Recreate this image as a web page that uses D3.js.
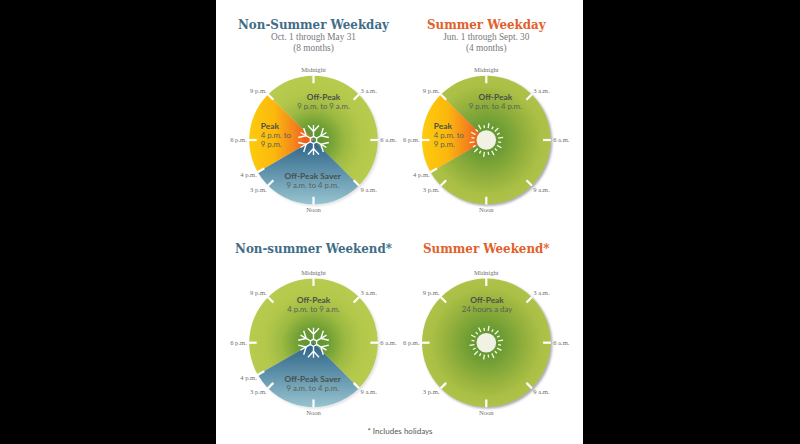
<!DOCTYPE html>
<html>
<head>
<meta charset="utf-8">
<script src="https://cdn.jsdelivr.net/npm/d3@7.9.0/dist/d3.min.js"></script>
<style>
  html, body { margin: 0; background: #000; }
  svg { display: block; }
  .title { font-family: "DejaVu Serif Condensed", "DejaVu Serif", serif; font-stretch: condensed; font-weight: bold; font-size: 13.2px; text-anchor: middle; }
  .sub { font-family: "Liberation Serif", serif; font-size: 9.3px; fill: #77787a; text-anchor: middle; }
  .hour { font-family: "Liberation Serif", serif; font-size: 6.6px; fill: #6f6f6f; text-anchor: middle; }
  .period { font-family: Lato, sans-serif; font-weight: bold; font-size: 8.4px; fill: #4a4f4a; }
  .range { font-family: Lato, sans-serif; font-size: 7.8px; fill: #5c5f58; }
  .note { font-family: Lato, sans-serif; font-size: 8px; fill: #555; text-anchor: middle; }
</style>
</head>
<body>
<svg id="chart" width="800" height="444"></svg>
<script>
const titles = ['Non-Summer Weekday', 'Summer Weekday', 'Non-summer Weekend*', 'Summer Weekend*'];
const subtitles = [
  ['Oct. 1 through May 31', '(8 months)'],
  ['Jun. 1 through Sept. 30', '(4 months)'],
  [],
  []
];
const seasons = ['winter', 'summer', 'winter', 'summer'];

// hours run from midnight; "to" goes past 24 when a period wraps round
const nonSummerWeekday = [
  { kind: 'offpeak', period: 'Off-Peak', range: ['9 p.m. to 9 a.m.'], from: 21, to: 33 },
  { kind: 'peak', period: 'Peak', range: ['4 p.m. to', '9 p.m.'], from: 16, to: 21 },
  { kind: 'saver', period: 'Off-Peak Saver', range: ['9 a.m. to 4 p.m.'], from: 9, to: 16 }
];
const summerWeekday = [
  { kind: 'offpeak', period: 'Off-Peak', range: ['9 p.m. to 4 p.m.'], from: 21, to: 40 },
  { kind: 'peak', period: 'Peak', range: ['4 p.m. to', '9 p.m.'], from: 16, to: 21 }
];
const nonSummerWeekend = [
  { kind: 'offpeak', period: 'Off-Peak', range: ['4 p.m. to 9 a.m.'], from: 16, to: 33 },
  { kind: 'saver', period: 'Off-Peak Saver', range: ['9 a.m. to 4 p.m.'], from: 9, to: 16 }
];
const summerWeekend = [
  { kind: 'offpeak', period: 'Off-Peak', range: ['24 hours a day'], from: 0, to: 24 }
];
const schedules = [nonSummerWeekday, summerWeekday, nonSummerWeekend, summerWeekend];

const hourTicks = [0, 3, 6, 9, 12, 15, 18, 21];
const hourNames = ['Midnight', '3 a.m.', '6 a.m.', '9 a.m.', 'Noon', '3 p.m.', '6 p.m.', '9 p.m.'];
const extraTick = 16;
const extraName = '4 p.m.';
const chartsWithExtraTick = [0, 1, 2];

// layout
const radius = 64.3;
const centers = [[313.5, 140], [486.3, 140], [313.5, 342.7], [486.3, 342.7]];
const titleY = [29, 29, 253, 253];
const labelSpots = {
  offpeak: [[10, -40], [9, -40], [0, -39.7], [0.7, -39.7]],
  peak: [[-52.8, -11], [-52.6, -11]],
  saver: [[-0.8, 39], null, [-0.8, 39.3]]
};

const svg = d3.select('#chart');
svg.append('rect').attr('x', 216).attr('y', 0).attr('width', 367).attr('height', 444).attr('fill', '#fff');

const angle = d3.scaleLinear().domain([0, 24]).range([0, 2 * Math.PI]);
const arc = d3.arc().innerRadius(0).outerRadius(radius);

const defs = svg.append('defs');

function radial(id, stops) {
  const g = defs.append('radialGradient').attr('id', id)
    .attr('gradientUnits', 'userSpaceOnUse').attr('cx', 0).attr('cy', 0).attr('r', radius);
  stops.forEach(([o, c]) => g.append('stop').attr('offset', o).attr('stop-color', c));
}
function linear(id, x1, y1, x2, y2, stops) {
  const g = defs.append('linearGradient').attr('id', id).attr('gradientUnits', 'userSpaceOnUse')
    .attr('x1', x1).attr('y1', y1).attr('x2', x2).attr('y2', y2);
  stops.forEach(([o, c]) => g.append('stop').attr('offset', o).attr('stop-color', c));
}
radial('offpeak-winter', [[0, '#5a922e'], [0.2, '#679a32'], [0.5, '#9dba42'], [0.75, '#b3c84b'], [1, '#b8cb50']]);
radial('offpeak-summer', [[0, '#5a922e'], [0.25, '#6b9c33'], [0.6, '#93b03d'], [0.85, '#aabf45'], [1, '#afc248']]);
linear('peak', -radius, 0, -8, 0, [[0, '#fdcb0c'], [0.45, '#fbb80f'], [0.78, '#f5881a'], [1, '#ee5f1e']]);
linear('saver', 0, 5, 0, radius, [[0, '#34688c'], [0.45, '#5f92aa'], [1, '#97c3d0']]);

function addShadow(id, opacity) {
  const f = defs.append('filter').attr('id', id)
    .attr('x', '-20%').attr('y', '-20%').attr('width', '140%').attr('height', '140%');
  f.append('feDropShadow').attr('dx', 1.6).attr('dy', 1.6).attr('stdDeviation', 1.1)
    .attr('flood-color', '#6b6b78').attr('flood-opacity', opacity);
}
addShadow('shadow-summer', 0.6);
addShadow('shadow-winter', 0.2);

function fillFor(kind, season) {
  return kind === 'offpeak' ? `url(#offpeak-${season})` : `url(#${kind})`;
}

function drawSnowflake(g) {
  const line = d3.line();
  d3.range(6).forEach((i) => {
    const arm = g.append('g').attr('transform', `rotate(${i * 60})`)
      .attr('fill', 'none').attr('stroke', '#fff').attr('stroke-width', 1.4);
    arm.append('path').attr('d', line([[0, -3.5], [0, -15]]));
    arm.append('path').attr('d', line([[-5.5, -14.5], [0, -8.5], [5.5, -14.5]]));
  });
  const hex = d3.range(7).map((i) => {
    const a = (i * Math.PI) / 3;
    return [3.6 * Math.sin(a), -3.6 * Math.cos(a)];
  });
  g.append('path').attr('d', line(hex)).attr('fill', 'none').attr('stroke', '#fff').attr('stroke-width', 1.3);
}

function drawSun(g) {
  g.append('circle').attr('r', 9.8).attr('fill', '#f1f1e4');
  const rayCount = 20;
  d3.range(rayCount).forEach((i) => {
    const long = i % 2 === 0;
    g.append('line')
      .attr('transform', `rotate(${(i * 360) / rayCount + 9})`)
      .attr('y1', -12).attr('y2', long ? -17 : -15)
      .attr('stroke', '#fbfbe8').attr('stroke-width', 1.3);
  });
}

schedules.forEach((segments, c) => {
  const season = seasons[c];
  const [cx, cy] = centers[c];

  svg.append('text').attr('class', 'title').attr('x', cx).attr('y', titleY[c])
    .attr('fill', season === 'winter' ? '#3f6d87' : '#e2602a')
    .text(titles[c]);
  subtitles[c].forEach((s, i) => {
    svg.append('text').attr('class', 'sub').attr('x', cx).attr('y', titleY[c] + 10.5 + i * 11.5).text(s);
  });

  const g = svg.append('g').attr('transform', `translate(${cx},${cy})`);

  const disc = g.append('g').attr('filter', `url(#shadow-${season})`);
  segments.forEach((d) => {
    disc.append('path')
      .attr('d', arc({ startAngle: angle(d.from), endAngle: angle(d.to) }))
      .attr('fill', fillFor(d.kind, season));
  });

  const ticks = hourTicks.map((h, i) => ({ hour: h, name: hourNames[i] }));
  if (chartsWithExtraTick.includes(c)) ticks.push({ hour: extraTick, name: extraName });
  ticks.forEach((t) => {
    const a = angle(t.hour);
    // the diagonal labels sit a little further out than the cardinal ones
    const labelX = t.hour % 6 === 3 ? 78 : 75;
    g.append('line')
      .attr('x1', Math.sin(a) * (radius - 7.5)).attr('y1', -Math.cos(a) * (radius - 7.5))
      .attr('x2', Math.sin(a) * (radius + 0.3)).attr('y2', -Math.cos(a) * (radius + 0.3))
      .attr('stroke', '#fff').attr('stroke-width', 2.2);
    g.append('text').attr('class', 'hour')
      .attr('x', Math.sin(a) * labelX).attr('y', -Math.cos(a) * 70 + 2.2)
      .text(t.name);
  });

  if (season === 'winter') drawSnowflake(g);
  else drawSun(g);

  segments.forEach((d) => {
    const [lx, ly] = labelSpots[d.kind][c];
    const anchor = d.kind === 'peak' ? 'start' : 'middle';
    g.append('text').attr('class', 'period').attr('x', lx).attr('y', ly)
      .attr('text-anchor', anchor).text(d.period);
    d.range.forEach((r, i) => {
      g.append('text').attr('class', 'range').attr('x', lx).attr('y', ly + 9 + i * 9)
        .attr('text-anchor', anchor).text(r);
    });
  });
});

svg.append('text').attr('class', 'note').attr('x', 400).attr('y', 434).text('* Includes holidays');
</script>
</body>
</html>
